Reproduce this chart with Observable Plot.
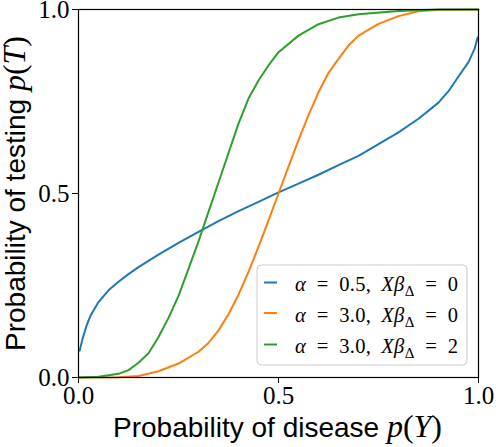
<!DOCTYPE html>
<html>
<head>
<meta charset="utf-8">
<script src="https://cdn.jsdelivr.net/npm/d3@7"></script>
<script src="https://cdn.jsdelivr.net/npm/@observablehq/plot@0.6"></script>
<style>
  body { margin: 0; background: #fff; }
</style>
</head>
<body>
<div id="chart"></div>
<script>
// series
const seriesKeys = ["a05_b0", "a30_b0", "a30_b2"];
const seriesColors = ["#1f77b4", "#ff7f0e", "#2ca02c"];
// legend entries: [text, kind] with i = italic, s = subscript
const seriesLabels = [
  [["α", "i"], ["\u2002=\u20020.5,\u2009 "], ["Xβ", "i"], ["Δ", "s"], ["\u2002=\u20020"]],
  [["α", "i"], ["\u2002=\u20023.0,\u2009 "], ["Xβ", "i"], ["Δ", "s"], ["\u2002=\u20020"]],
  [["α", "i"], ["\u2002=\u20023.0,\u2009 "], ["Xβ", "i"], ["Δ", "s"], ["\u2002=\u20022"]]
];

const blueX = [0.003, 0.01, 0.02, 0.03, 0.05, 0.075, 0.1, 0.125, 0.15, 0.2, 0.25, 0.3, 0.35, 0.4, 0.45, 0.5,
  0.55, 0.6, 0.65, 0.7, 0.75, 0.8, 0.85, 0.9, 0.925, 0.95, 0.975, 0.99, 0.998];
const blueY = [0.073, 0.105, 0.14, 0.168, 0.205, 0.237, 0.26, 0.281, 0.3, 0.334, 0.366, 0.396, 0.425, 0.452, 0.477, 0.503,
  0.527, 0.551, 0.577, 0.602, 0.634, 0.666, 0.703, 0.747, 0.778, 0.818, 0.857, 0.893, 0.924];

const orangeX = [0, 0.05, 0.1, 0.15, 0.2, 0.25, 0.3, 0.325, 0.35, 0.375, 0.4, 0.425, 0.45, 0.475, 0.5,
  0.525, 0.55, 0.575, 0.6, 0.625, 0.65, 0.675, 0.7, 0.75, 0.8, 0.85, 0.9, 1];
const orangeY = [0, 0, 0.001, 0.004, 0.017, 0.038, 0.07, 0.094, 0.128, 0.172, 0.225, 0.287, 0.355, 0.427, 0.5,
  0.573, 0.645, 0.713, 0.775, 0.828, 0.866, 0.902, 0.929, 0.961, 0.982, 0.995, 0.999, 1];

const greenX = [0, 0.05, 0.1, 0.125, 0.15, 0.175, 0.2, 0.225, 0.25, 0.275, 0.3, 0.325, 0.35, 0.375, 0.4,
  0.425, 0.45, 0.475, 0.5, 0.55, 0.6, 0.65, 0.7, 0.8, 0.9, 1];
const greenY = [0, 0.002, 0.01, 0.02, 0.04, 0.066, 0.11, 0.162, 0.222, 0.295, 0.37, 0.45, 0.53, 0.61, 0.69,
  0.758, 0.807, 0.848, 0.884, 0.929, 0.96, 0.978, 0.987, 0.996, 1, 1];

const xTicks = [0, 0.5, 1];
const yTicks = [0, 0.5, 1];

const rows = [];
[[blueX, blueY], [orangeX, orangeY], [greenX, greenY]].forEach(([xs, ys], i) => {
  xs.forEach((x, j) => rows.push({series: seriesKeys[i], x: x, y: ys[j]}));
});

const serif = "'Liberation Serif', 'DejaVu Serif', serif";
const sans = "'Liberation Sans', 'DejaVu Sans', sans-serif";

const chart = Plot.plot({
  width: 496,
  height: 447,
  marginLeft: 78,
  marginRight: 18,
  marginTop: 9,
  marginBottom: 70,
  style: {fontFamily: serif, fontSize: "25px", background: "#fff", overflow: "visible", color: "#000"},
  x: {domain: [0, 1]},
  y: {domain: [0, 1]},
  color: {domain: seriesKeys, range: seriesColors},
  marks: [
    Plot.axisX({ticks: xTicks, tickFormat: d => d.toFixed(1), tickSize: 6, tickPadding: 3, label: null, fontSize: 25}),
    Plot.axisY({ticks: yTicks, tickFormat: d => d.toFixed(1), tickSize: 6, tickPadding: 3, label: null, fontSize: 25}),
    Plot.line(rows, {x: "x", y: "y", z: "series", stroke: "series", strokeWidth: 2, curve: "linear"}),
    Plot.frame({stroke: "#000", strokeWidth: 1.2})
  ]
});

const svg = d3.select(chart);

// axis labels, sans text plus math part
function addLabel(g, text, math) {
  const t = g.append("text").attr("text-anchor", "middle").attr("fill", "#000");
  t.append("tspan").attr("font-family", sans).attr("font-size", 28).text(text + " ");
  t.append("tspan").attr("font-family", serif).attr("font-size", 32).attr("font-style", "italic").text("p");
  t.append("tspan").attr("font-family", serif).attr("font-size", 32).text("(");
  t.append("tspan").attr("font-family", serif).attr("font-size", 32).attr("font-style", "italic").text(math);
  t.append("tspan").attr("font-family", serif).attr("font-size", 32).text(")");
}
addLabel(svg.append("g").attr("transform", "translate(277.5,437)"), "Probability of disease", "Y");
addLabel(svg.append("g").attr("transform", "translate(25,193.5) rotate(-90)"), "Probability of testing", "T");

// legend
const leg = svg.append("g");
leg.append("rect")
  .attr("x", 257).attr("y", 265).attr("width", 210).attr("height", 100)
  .attr("rx", 4).attr("fill", "#fff").attr("fill-opacity", 0.8)
  .attr("stroke", "#cccccc").attr("stroke-width", 1);
const rowMid = [282.5, 313, 344.5];
seriesLabels.forEach((parts, i) => {
  leg.append("line")
    .attr("x1", 264).attr("x2", 277).attr("y1", rowMid[i]).attr("y2", rowMid[i])
    .attr("stroke", seriesColors[i]).attr("stroke-width", 2);
  const t = leg.append("text")
    .attr("x", 295).attr("y", rowMid[i] + 8.5)
    .attr("text-anchor", "start")
    .attr("textLength", 163).attr("lengthAdjust", "spacing")
    .attr("font-family", serif).attr("font-size", 20.5).attr("fill", "#000");
  let shifted = false;
  parts.forEach(([s, kind]) => {
    const sp = t.append("tspan").text(s);
    if (kind === "i") sp.attr("font-style", "italic");
    if (kind === "s") { sp.attr("font-size", 15).attr("dy", 5); shifted = true; }
    else if (shifted) { sp.attr("dy", -5); shifted = false; }
  });
});

d3.select("#chart").append(() => chart);
</script>
</body>
</html>
